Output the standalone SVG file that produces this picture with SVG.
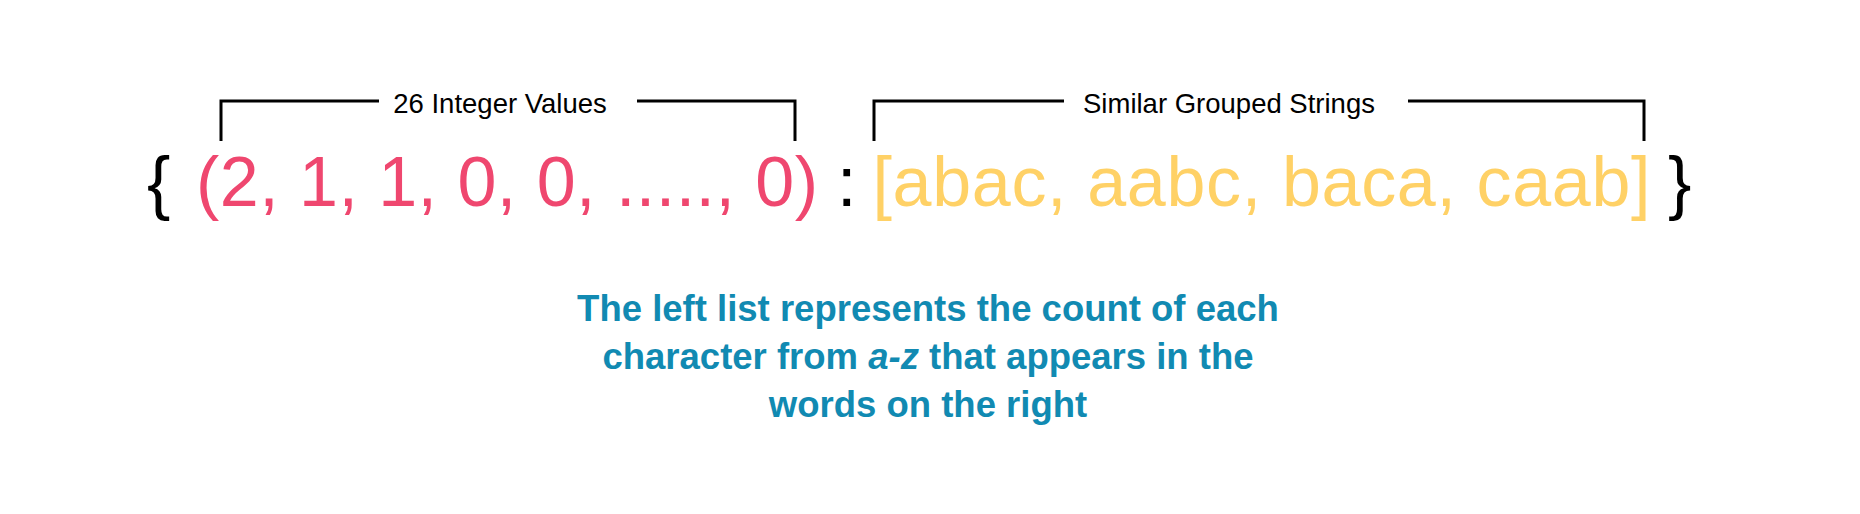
<svg xmlns="http://www.w3.org/2000/svg" width="1860" height="514" viewBox="0 0 1860 514">
  <style>
    .main { font-family: "Liberation Sans", Arial, sans-serif; font-size: 70px; }
    .label { font-family: "Liberation Sans", Arial, sans-serif; font-size: 27.5px; fill: #000000; text-anchor: middle; }
    .note { font-family: "Liberation Sans", Arial, sans-serif; font-size: 36.5px; font-weight: bold; fill: #118AB2; text-anchor: middle; }
    .bracket { fill: none; stroke: #000000; stroke-width: 3; stroke-linejoin: miter; stroke-linecap: butt; }
    .black { fill: #000000; }
    .pink { fill: #EF476F; }
    .yellow { fill: #FFD166; }
  </style>
  <rect width="1860" height="514" fill="#FFFFFF"/>

  <g id="connectors">
    <polyline class="bracket" points="221,141 221,101 379,101"/>
    <polyline class="bracket" points="637,101 795,101 795,141"/>
    <polyline class="bracket" points="874,141 874,101 1064,101"/>
    <polyline class="bracket" points="1408,101 1644,101 1644,141"/>
  </g>

  <g id="label-integer-values">
    <text class="label" x="500" y="113">26 Integer Values</text>
  </g>
  <g id="label-grouped-strings">
    <text class="label" x="1229" y="113">Similar Grouped Strings</text>
  </g>

  <g id="expression">
    <text class="main black" x="147" y="206">{</text>
    <text class="main pink" x="196" y="206" textLength="622" lengthAdjust="spacing">(2, 1, 1, 0, 0, ....., 0)</text>
    <text class="main black" x="837" y="206">:</text>
    <text class="main yellow" x="872.5" y="206" textLength="778" lengthAdjust="spacing">[abac, aabc, baca, caab]</text>
    <text class="main black" x="1668" y="206">}</text>
  </g>

  <g id="note">
    <text class="note" x="928" y="321">The left list represents the count of each</text>
    <text class="note" x="928" y="369">character from <tspan font-style="italic">a-z</tspan> that appears in the</text>
    <text class="note" x="928" y="417">words on the right</text>
  </g>
</svg>
